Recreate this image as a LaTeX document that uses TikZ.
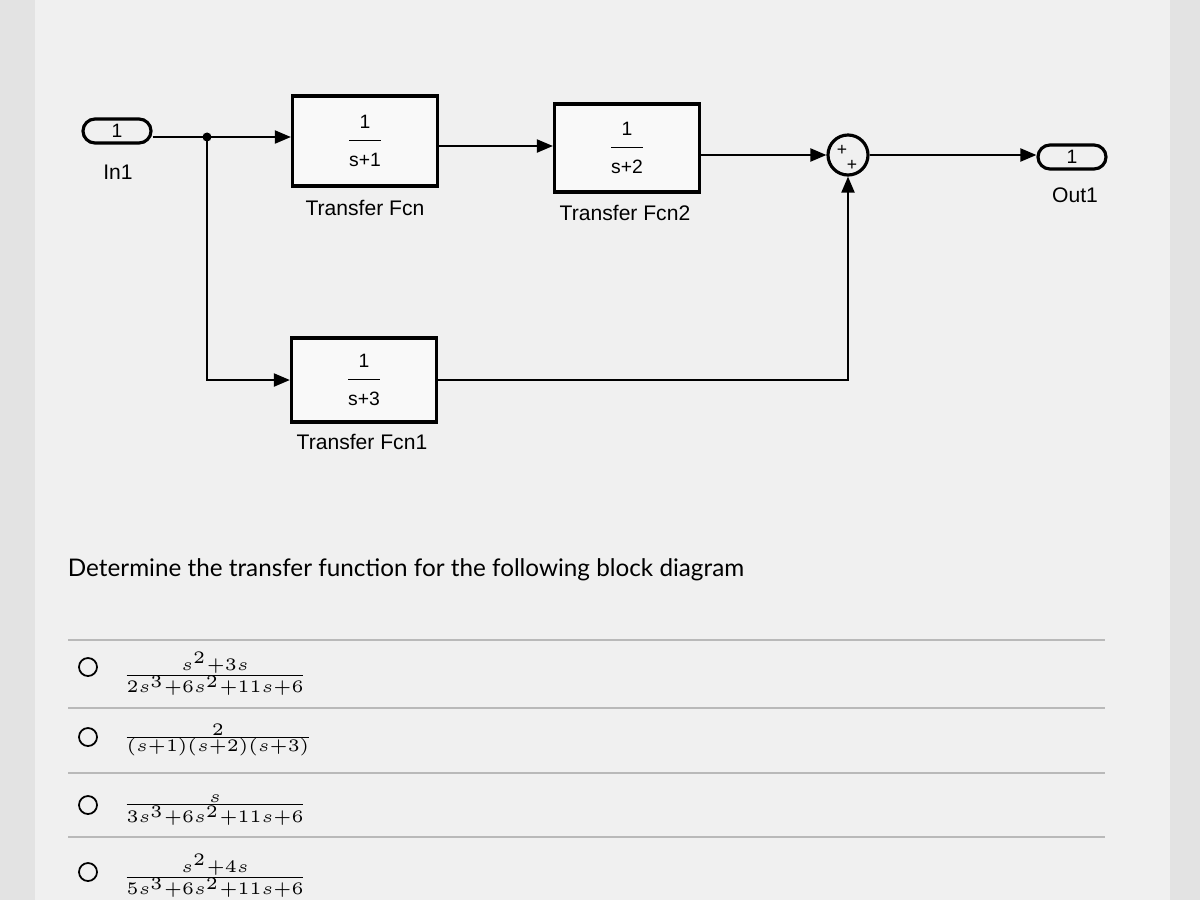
\documentclass[tikz,border=0pt]{standalone}
\usepackage{amsmath}
\usepackage{fontspec}
\setsansfont{Liberation Sans}
\newfontfamily\qfont{Lato}
\usetikzlibrary{arrows.meta}
\begin{document}
\begin{tikzpicture}[x=0.01cm,y=-0.01cm,
  blk/.style={draw,line width=0.9pt,fill=white!60!gray!12,minimum width=1.45cm,minimum height=0.88cm,inner sep=0pt,font=\sffamily\fontsize{5.5}{6}\selectfont},
  port/.style={draw,line width=0.9pt,rounded corners=0.12cm,minimum width=0.68cm,minimum height=0.24cm,inner sep=0pt,font=\sffamily\fontsize{5.5}{6}\selectfont},
  lbl/.style={font=\sffamily\fontsize{6}{7}\selectfont},
  sig/.style={line width=0.6pt,-{Triangle[length=0.16cm,width=0.13cm]}},
  sep/.style={draw=gray!55,line width=0.5pt},
  radio/.style={draw,line width=0.5pt,circle,minimum size=0.18cm,inner sep=0pt},
  frac/.style={font=\fontsize{4.6}{5}\selectfont}]
\fill[gray!22!white] (0,0) rectangle (1200,900);
\fill[gray!12!white] (35,0) rectangle (1170,900);
\useasboundingbox (0,0) rectangle (1200,900);
\newcommand{\tff}[1]{$\displaystyle\frac{\textsf{1}\vphantom{(}}{\rule{0pt}{2.2ex}\textsf{#1}}$}
\newcommand{\ans}[2]{$\boldmath\medmuskip=0mu\thickmuskip=0mu\thinmuskip=0mu\frac{#1}{#2}$}
% ports
\node[port] (in) at (117,131) {1};
\node[lbl] (inl) at (118,172) {In1};
\node[port] (out) at (1072,157) {1};
\node[lbl] (outl) at (1075,195) {Out1};
% blocks
\node[blk,minimum height=0.9cm] (tf) at (365,141) {\tff{s+1}};
\node[lbl] (tfl) at (365,208) {Transfer Fcn};
\node[blk] (tf2) at (627,148) {\tff{s+2}};
\node[lbl] (tf2l) at (625,213) {Transfer Fcn2};
\node[blk,minimum height=0.84cm] (tf1) at (364,380) {\tff{s+3}};
\node[lbl] (tf1l) at (362,442) {Transfer Fcn1};
% sum
\node[draw,circle,line width=0.9pt,minimum size=0.4cm,inner sep=0pt] (sum) at (848,155) {};
\node[font=\sffamily\fontsize{5}{5}\selectfont] at (842,150) {+};
\node[font=\sffamily\fontsize{5}{5}\selectfont] at (852,165) {+};
% wires
\coordinate (j) at (207,137);
\fill (j) circle (0.045cm);
\draw[sig] (in.east |- j) -- (j) -- (tf.west |- j);
\draw[sig] (j) |- (tf1.west);
\draw[sig] (tf.east |- 0,146) -- (tf2.west |- 0,146);
\draw[sig] (tf2.east |- sum) -- (sum.west);
\draw[sig] (sum.east) -- (out.west |- sum);
\draw[sig] (tf1.east) -| (sum.south);
% question
\node[font=\qfont\fontsize{6.9}{7}\selectfont] (q) at (406,570) {Determine the transfer function for the following block diagram};
\draw[sep] (68,640) -- (1105,640);
\draw[sep] (68,708) -- (1105,708);
\draw[sep] (68,773) -- (1105,773);
\draw[sep] (68,837) -- (1105,837);
\node[radio] (r1) at (88,667) {};
\node[radio] (r2) at (88,737) {};
\node[radio] (r3) at (88,805) {};
\node[radio] (r4) at (88,872) {};
\node[frac,anchor=west] (a1) at (110,674) {\ans{s^2+3s}{2s^3+6s^2+11s+6}};
\node[frac,anchor=west] (a2) at (110,740) {\ans{2}{(s+1)(s+2)(s+3)}};
\node[frac,anchor=west] (a3) at (110,810) {\ans{s}{3s^3+6s^2+11s+6}};
\node[frac,anchor=west] (a4) at (110,876) {\ans{s^2+4s}{5s^3+6s^2+11s+6}};
\end{tikzpicture}
\end{document}
